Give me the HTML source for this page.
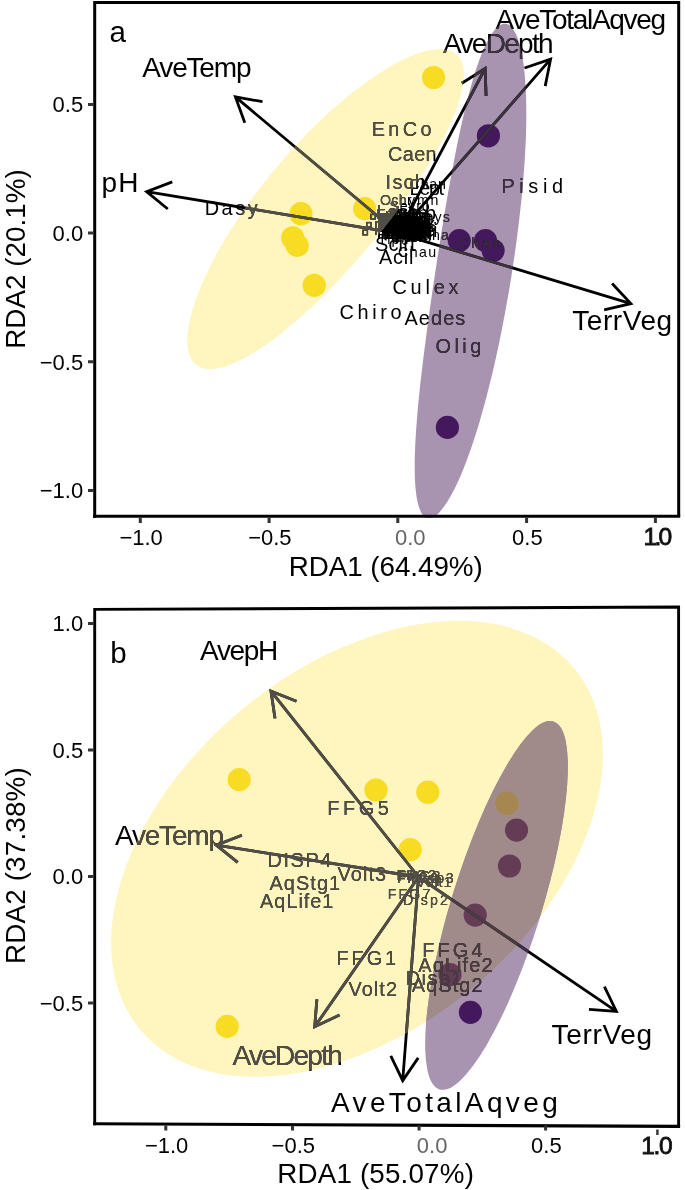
<!DOCTYPE html>
<html lang="en"><head><meta charset="utf-8"><title>RDA biplots</title>
<style>
html,body{margin:0;padding:0;background:#fff}
svg{display:block}
text{font-family:"Liberation Sans", sans-serif}
</style></head><body>
<svg width="685" height="1190" viewBox="0 0 685 1190">
<defs>
<clipPath id="panA"><rect x="94.7" y="2.6" width="584" height="515.4"/></clipPath>
<clipPath id="cYA"><path d="M456.1 54.0L452.5 51.6L448.3 50.0L443.5 49.2L438.0 49.0L432.0 49.7L425.4 51.1L418.3 53.3L410.8 56.2L402.8 59.8L394.5 64.1L385.7 69.2L376.7 74.9L367.5 81.3L358.0 88.2L348.4 95.8L338.7 104.0L328.9 112.6L319.1 121.7L309.3 131.3L299.7 141.3L290.2 151.6L280.8 162.2L271.7 173.0L262.9 184.0L254.4 195.2L246.3 206.4L238.6 217.7L231.3 228.9L224.5 240.0L218.2 251.0L212.4 261.8L207.1 272.4L202.5 282.6L198.4 292.5L194.9 301.9L192.1 310.9L189.9 319.4L188.4 327.3L187.5 334.7L187.2 341.4L187.6 347.4L188.7 352.8L190.4 357.4L192.7 361.3L195.7 364.4L199.2 366.7L203.4 368.3L208.1 369.0L213.3 369.0L219.1 368.1L225.4 366.5L232.1 364.0L239.3 360.8L246.9 356.8L254.8 352.1L263.1 346.7L271.7 340.7L280.5 334.0L289.6 326.6L298.8 318.7L308.2 310.3L317.7 301.4L327.2 292.0L336.7 282.2L346.2 272.1L355.6 261.7L364.8 251.1L373.9 240.3L382.8 229.3L391.4 218.2L399.7 207.2L407.7 196.1L415.2 185.1L422.4 174.2L429.1 163.5L435.2 153.0L440.9 142.8L446.0 133.0L450.5 123.5L454.3 114.4L457.6 105.7L460.2 97.6L462.1 89.9L463.3 82.9L463.8 76.4L463.7 70.6L462.8 65.4L461.3 60.9L459.0 57.1Z"/></clipPath>
<clipPath id="cPA"><path d="M504.8 23.8L502.8 24.1L500.8 24.8L498.7 26.1L496.6 27.9L494.5 30.2L492.4 33.0L490.2 36.3L488.1 40.0L485.9 44.3L483.7 49.0L481.6 54.2L479.4 59.8L477.2 65.9L475.1 72.4L473.0 79.3L470.9 86.6L468.8 94.2L466.7 102.3L464.6 110.7L462.6 119.4L460.6 128.5L458.6 137.8L456.6 147.4L454.7 157.3L452.7 167.4L450.8 177.7L448.9 188.3L447.0 198.9L445.2 209.8L443.4 220.7L441.5 231.8L439.8 243.0L438.0 254.2L436.3 265.4L434.6 276.7L432.9 287.9L431.3 299.1L429.7 310.3L428.2 321.4L426.7 332.3L425.3 343.2L423.9 353.8L422.6 364.4L421.4 374.7L420.2 384.8L419.2 394.7L418.2 404.3L417.4 413.6L416.7 422.7L416.0 431.4L415.5 439.8L415.1 447.9L414.8 455.5L414.7 462.8L414.7 469.7L414.8 476.2L415.1 482.3L415.5 487.9L416.1 493.1L416.7 497.8L417.6 502.1L418.5 505.8L419.7 509.1L420.9 511.9L422.3 514.2L423.8 516.0L425.4 517.3L427.1 518.0L429.0 518.3L431.0 518.0L433.0 517.3L435.2 516.0L437.4 514.2L439.7 511.9L442.1 509.1L444.6 505.8L447.1 502.1L449.7 497.8L452.3 493.1L455.0 487.9L457.7 482.3L460.4 476.2L463.1 469.7L465.8 462.8L468.5 455.5L471.2 447.9L473.9 439.8L476.6 431.4L479.3 422.7L481.9 413.6L484.5 404.3L487.0 394.7L489.5 384.8L492.0 374.7L494.4 364.4L496.8 353.8L499.1 343.2L501.3 332.3L503.4 321.4L505.5 310.3L507.5 299.1L509.5 287.9L511.3 276.7L513.0 265.4L514.7 254.2L516.3 243.0L517.7 231.8L519.1 220.7L520.3 209.8L521.5 198.9L522.5 188.3L523.4 177.7L524.2 167.4L524.9 157.3L525.4 147.4L525.9 137.8L526.1 128.5L526.3 119.4L526.3 110.7L526.2 102.3L526.0 94.2L525.6 86.6L525.1 79.3L524.5 72.4L523.8 65.9L522.9 59.8L521.9 54.2L520.8 49.0L519.6 44.3L518.3 40.0L516.9 36.3L515.4 33.0L513.8 30.2L512.2 27.9L510.4 26.1L508.6 24.8L506.7 24.1Z"/></clipPath>
<clipPath id="cYB"><ellipse cx="357.0" cy="848.8" rx="282.4" ry="180.7" transform="rotate(-39.8 357.0 848.8)"/></clipPath>
<clipPath id="cPB"><ellipse cx="496.5" cy="905.4" rx="192.6" ry="45.0" transform="rotate(-72.8 496.5 905.4)"/></clipPath>
<g id="inkA" fill="currentColor" stroke="none">
<g fill="none" stroke="currentColor" stroke-width="2.8" stroke-linejoin="miter" stroke-miterlimit="10">
<path d="M398.0 233.3L235.4 96.9M244.8 122.8L235.4 96.9L262.5 101.7"/>
<path d="M398.0 233.3L146.6 191.6M167.8 209.0L146.6 191.6L172.3 181.9"/>
<path d="M398.0 233.3L485.1 68.5M461.8 83.2L485.1 68.5L486.1 96.0"/>
<path d="M398.0 233.3L550.6 59.2M524.5 68.0L550.6 59.2L545.2 86.1"/>
<path d="M398.0 233.3L630.9 303.6M612.1 283.5L630.9 303.6L604.1 309.8"/>
</g>
<text x="142.3" y="76.5" font-size="28.0" letter-spacing="-1.17">AveTemp</text>
<text x="101.4" y="192.4" font-size="28.0" letter-spacing="1.33">pH</text>
<text x="443.1" y="52.6" font-size="28.0" letter-spacing="-1.71">AveDepth</text>
<text x="495.4" y="29.2" font-size="28.0" letter-spacing="-1.30">AveTotalAqveg</text>
<text x="572.2" y="329.9" font-size="28.0" letter-spacing="0.58">TerrVeg</text>
<text x="371.7" y="135.8" font-size="19.9" letter-spacing="3.40">EnCo</text>
<text x="388.0" y="160.9" font-size="19.9" letter-spacing="0.37">Caen</text>
<text x="385.6" y="188.9" font-size="19.9" letter-spacing="1.26">Isch</text>
<text x="204.7" y="215.2" font-size="19.9" letter-spacing="2.54">Dasy</text>
<text x="501.4" y="193.3" font-size="19.9" letter-spacing="4.64">Pisid</text>
<text x="392.4" y="294.0" font-size="19.9" letter-spacing="3.82">Culex</text>
<text x="339.4" y="319.1" font-size="19.9" letter-spacing="3.66">Chiro</text>
<text x="404.5" y="325.0" font-size="19.9" letter-spacing="1.09">Aedes</text>
<text x="435.5" y="353.1" font-size="19.9" letter-spacing="3.46">Olig</text>
<text x="379.0" y="264.3" font-size="19.9" letter-spacing="0.79">Acil</text>
<text x="409.5" y="195.0" font-size="19.9" letter-spacing="-1.36">Lept</text>
<text x="409.6" y="189.0" font-size="14.2" letter-spacing="0.79">Chan</text>
<text x="458.1" y="248.2" font-size="14.2" letter-spacing="2.86">Chao</text>
<text x="398.0" y="257.0" font-size="14.2" letter-spacing="1.42">Chau</text>
<text x="375.0" y="251.1" font-size="19.9" letter-spacing="0.19">Scirt</text>
<text x="380.0" y="204.5" font-size="14.2" letter-spacing="0.33">Ochr</text>
<text x="399.0" y="205.0" font-size="14.2" letter-spacing="1.74">Lymn</text>
<text x="389.5" y="210.5" font-size="14.2" letter-spacing="0.76">Sevro</text>
<text x="415.0" y="222.2" font-size="14.2" letter-spacing="1.08">Phys</text>
<text x="408.0" y="240.0" font-size="14.2" letter-spacing="1.15">Plana</text>
<text x="386.4" y="236.3" font-size="14.2" letter-spacing="0.43">Baet</text>
<text x="393.5" y="236.5" font-size="19.9" letter-spacing="-0.68">Lime</text>
<text x="393.5" y="235.8" font-size="19.9" letter-spacing="-0.46">Hydr</text>
<text x="380.4" y="234.0" font-size="19.9" letter-spacing="1.65">Cori</text>
<text x="376.5" y="238.6" font-size="19.9" letter-spacing="-0.32">Noto</text>
<text x="390.8" y="242.0" font-size="14.2" letter-spacing="2.08">Dyti</text>
<text x="381.7" y="230.0" font-size="14.2" letter-spacing="1.23">Gyri</text>
<text x="396.0" y="236.7" font-size="19.9" letter-spacing="2.38">Hali</text>
<text x="386.3" y="235.6" font-size="19.9" letter-spacing="1.15">Libe</text>
<text x="392.0" y="229.2" font-size="14.2" letter-spacing="-0.64">Aesh</text>
<text x="377.9" y="228.2" font-size="19.9" letter-spacing="-1.83">Coen</text>
<text x="386.4" y="233.9" font-size="19.9" letter-spacing="0.98">Lest</text>
<text x="379.5" y="226.8" font-size="19.9" letter-spacing="-1.09">Phys</text>
<text x="376.5" y="229.3" font-size="19.9" letter-spacing="0.75">Plan</text>
<text x="388.3" y="223.3" font-size="19.9" letter-spacing="-2.46">Spha</text>
<text x="378.9" y="229.4" font-size="14.2" letter-spacing="0.77">Hyal</text>
<text x="388.8" y="227.7" font-size="14.2" letter-spacing="-4.07">Gamm</text>
<text x="396.6" y="237.6" font-size="14.2" letter-spacing="0.70">Asel</text>
<text x="389.5" y="239.1" font-size="19.9" letter-spacing="1.86">Hiru</text>
<text x="382.2" y="223.4" font-size="14.2" letter-spacing="0.15">Glos</text>
<text x="394.3" y="229.0" font-size="14.2" letter-spacing="0.15">Erpo</text>
<text x="377.5" y="228.2" font-size="19.9" letter-spacing="0.82">Tubi</text>
<text x="395.1" y="219.8" font-size="19.9" letter-spacing="-2.90">Lumb</text>
<text x="387.1" y="231.0" font-size="14.2" letter-spacing="0.75">Naid</text>
<text x="376.2" y="219.0" font-size="14.2" letter-spacing="-0.30">Ench</text>
<text x="383.1" y="239.3" font-size="14.2">Hydra</text>
<text x="397.9" y="234.0" font-size="19.9" letter-spacing="-1.69">Dug</text>
<text x="392.1" y="234.5" font-size="14.2" letter-spacing="-0.44">Cera</text>
<text x="389.2" y="236.6" font-size="19.9" letter-spacing="-0.69">Tany</text>
<text x="387.0" y="231.1" font-size="19.9" letter-spacing="0.79">Orth</text>
<text x="377.5" y="228.9" font-size="14.2" letter-spacing="1.08">Chir</text>
<text x="389.3" y="229.0" font-size="19.9" letter-spacing="-1.42">Simu</text>
<text x="377.9" y="243.5" font-size="14.2" letter-spacing="1.12">Tipu</text>
<text x="387.8" y="236.3" font-size="19.9" letter-spacing="-1.36">Taba</text>
<text x="390.8" y="240.4" font-size="14.2" letter-spacing="1.14">Stra</text>
<text x="383.4" y="233.6" font-size="19.9" letter-spacing="-1.46">Ephy</text>
<text x="380.8" y="239.2" font-size="14.2" letter-spacing="-0.04">Psyc</text>
<text x="384.8" y="225.7" font-size="14.2" letter-spacing="0.68">Dixa</text>
<text x="388.4" y="231.1" font-size="14.2" letter-spacing="2.17">Tric</text>
<text x="392.2" y="220.0" font-size="14.2" letter-spacing="0.23">Limn</text>
<text x="376.5" y="237.1" font-size="19.9">Phry</text>
<text x="381.4" y="231.3" font-size="19.9" letter-spacing="1.27">Lepi</text>
<text x="384.9" y="236.7" font-size="19.9" letter-spacing="0.75">Poly</text>
<text x="383.7" y="233.0" font-size="19.9" letter-spacing="-0.50">Hept</text>
<text x="391.4" y="236.7" font-size="19.9" letter-spacing="0.42">Siph</text>
<text x="392.2" y="226.6" font-size="19.9" letter-spacing="0.60">Lept</text>
<text x="383.4" y="239.0" font-size="19.9" letter-spacing="-1.80">Ephe</text>
<text x="401.2" y="241.8" font-size="14.2" letter-spacing="-2.47">Nemo</text>
<text x="373.4" y="234.6" font-size="19.9" letter-spacing="2.02">Perl</text>
<text x="390.1" y="236.6" font-size="19.9" letter-spacing="-1.83">Capn</text>
<text x="387.0" y="229.6" font-size="19.9" letter-spacing="2.42">Sial</text>
<text x="394.0" y="230.6" font-size="19.9" letter-spacing="-1.37">Corix</text>
<text x="381.5" y="232.6" font-size="19.9" letter-spacing="-2.50">Nepa</text>
<text x="402.2" y="231.3" font-size="14.2" letter-spacing="0.30">Gerr</text>
<text x="383.9" y="239.2" font-size="19.9" letter-spacing="-1.02">Velia</text>
<text x="390.3" y="225.1" font-size="14.2" letter-spacing="-1.42">Meso</text>
<text x="382.0" y="237.1" font-size="14.2" letter-spacing="1.82">Pleid</text>
<text x="397.5" y="231.8" font-size="14.2" letter-spacing="0.24">Beros</text>
<text x="389.6" y="223.3" font-size="19.9" letter-spacing="-1.46">Enoc</text>
<text x="376.5" y="232.3" font-size="19.9" letter-spacing="0.05">Helo</text>
<text x="390.7" y="233.9" font-size="19.9" letter-spacing="-3.00">Hydro</text>
<text x="376.5" y="219.0" font-size="19.9" letter-spacing="-0.36">Lacc</text>
<g fill="none" stroke="currentColor" stroke-width="1.4"><rect x="363.0" y="230.2" width="4.4" height="4.6"/><rect x="371.0" y="214.4" width="4.2" height="4.6"/><rect x="366.8" y="222.6" width="4.2" height="4.4"/></g>
</g>
<g id="inkB" fill="currentColor" stroke="none">
<g fill="none" stroke="currentColor" stroke-width="2.8" stroke-linejoin="miter" stroke-miterlimit="10">
<path d="M418.5 877.0L271.0 691.2M275.0 718.4L271.0 691.2L296.5 701.3"/>
<path d="M418.5 877.0L216.3 845.1M237.7 862.4L216.3 845.1L241.9 835.3"/>
<path d="M418.5 877.0L314.7 1026.8M339.5 1015.1L314.7 1026.8L316.9 999.4"/>
<path d="M418.5 877.0L402.7 1080.6M418.2 1057.9L402.7 1080.6L390.8 1055.8"/>
<path d="M418.5 877.0L616.4 1011.4M604.4 986.6L616.4 1011.4L589.0 1009.4"/>
</g>
<text x="200.1" y="660.3" font-size="28.0" letter-spacing="-1.35">AvepH</text>
<text x="114.9" y="844.8" font-size="28.0" letter-spacing="-1.17">AveTemp</text>
<text x="232.6" y="1065.1" font-size="28.0" letter-spacing="-1.76">AveDepth</text>
<text x="331.0" y="1111.6" font-size="28.0" letter-spacing="3.37">AveTotalAqveg</text>
<text x="551.6" y="1044.2" font-size="28.0" letter-spacing="0.66">TerrVeg</text>
<text x="327.3" y="814.6" font-size="19.9" letter-spacing="3.58">FFG5</text>
<text x="267.5" y="866.6" font-size="19.9" letter-spacing="1.59">DISP4</text>
<text x="337.4" y="880.7" font-size="19.9" letter-spacing="1.13">Volt3</text>
<text x="269.5" y="890.1" font-size="19.9" letter-spacing="1.08">AqStg1</text>
<text x="260.1" y="908.3" font-size="19.9" letter-spacing="0.98">AqLife1</text>
<text x="336.4" y="964.7" font-size="19.9" letter-spacing="2.98">FFG1</text>
<text x="348.5" y="996.2" font-size="19.9" letter-spacing="1.06">Volt2</text>
<text x="422.3" y="957.2" font-size="19.9" letter-spacing="3.11">FFG4</text>
<text x="418.3" y="971.8" font-size="19.9" letter-spacing="1.12">AqLife2</text>
<text x="405.8" y="985.2" font-size="19.9" letter-spacing="1.40">Disp1</text>
<text x="411.8" y="991.7" font-size="19.9" letter-spacing="1.08">AqStg2</text>
<text x="387.8" y="899.2" font-size="14.2" letter-spacing="2.11">FFG7</text>
<text x="403.1" y="904.8" font-size="14.2" letter-spacing="2.10">Disp2</text>
<text x="396.5" y="880.0" font-size="14.2" letter-spacing="1.04">FFG2</text>
<text x="398.0" y="881.0" font-size="14.2" letter-spacing="2.08">FFG3</text>
<text x="397.0" y="883.0" font-size="14.2" letter-spacing="1.54">FFG6</text>
<text x="411.0" y="882.8" font-size="14.2" letter-spacing="1.58">Disp3</text>
<text x="416.0" y="886.5" font-size="14.2" letter-spacing="0.96">Volt1</text>
</g>
</defs>
<rect width="685" height="1190" fill="#fff"/>
<!-- panel a -->
<g clip-path="url(#panA)">
<path d="M456.1 54.0L452.5 51.6L448.3 50.0L443.5 49.2L438.0 49.0L432.0 49.7L425.4 51.1L418.3 53.3L410.8 56.2L402.8 59.8L394.5 64.1L385.7 69.2L376.7 74.9L367.5 81.3L358.0 88.2L348.4 95.8L338.7 104.0L328.9 112.6L319.1 121.7L309.3 131.3L299.7 141.3L290.2 151.6L280.8 162.2L271.7 173.0L262.9 184.0L254.4 195.2L246.3 206.4L238.6 217.7L231.3 228.9L224.5 240.0L218.2 251.0L212.4 261.8L207.1 272.4L202.5 282.6L198.4 292.5L194.9 301.9L192.1 310.9L189.9 319.4L188.4 327.3L187.5 334.7L187.2 341.4L187.6 347.4L188.7 352.8L190.4 357.4L192.7 361.3L195.7 364.4L199.2 366.7L203.4 368.3L208.1 369.0L213.3 369.0L219.1 368.1L225.4 366.5L232.1 364.0L239.3 360.8L246.9 356.8L254.8 352.1L263.1 346.7L271.7 340.7L280.5 334.0L289.6 326.6L298.8 318.7L308.2 310.3L317.7 301.4L327.2 292.0L336.7 282.2L346.2 272.1L355.6 261.7L364.8 251.1L373.9 240.3L382.8 229.3L391.4 218.2L399.7 207.2L407.7 196.1L415.2 185.1L422.4 174.2L429.1 163.5L435.2 153.0L440.9 142.8L446.0 133.0L450.5 123.5L454.3 114.4L457.6 105.7L460.2 97.6L462.1 89.9L463.3 82.9L463.8 76.4L463.7 70.6L462.8 65.4L461.3 60.9L459.0 57.1Z" fill="#FFF5BE"/>
<path d="M504.8 23.8L502.8 24.1L500.8 24.8L498.7 26.1L496.6 27.9L494.5 30.2L492.4 33.0L490.2 36.3L488.1 40.0L485.9 44.3L483.7 49.0L481.6 54.2L479.4 59.8L477.2 65.9L475.1 72.4L473.0 79.3L470.9 86.6L468.8 94.2L466.7 102.3L464.6 110.7L462.6 119.4L460.6 128.5L458.6 137.8L456.6 147.4L454.7 157.3L452.7 167.4L450.8 177.7L448.9 188.3L447.0 198.9L445.2 209.8L443.4 220.7L441.5 231.8L439.8 243.0L438.0 254.2L436.3 265.4L434.6 276.7L432.9 287.9L431.3 299.1L429.7 310.3L428.2 321.4L426.7 332.3L425.3 343.2L423.9 353.8L422.6 364.4L421.4 374.7L420.2 384.8L419.2 394.7L418.2 404.3L417.4 413.6L416.7 422.7L416.0 431.4L415.5 439.8L415.1 447.9L414.8 455.5L414.7 462.8L414.7 469.7L414.8 476.2L415.1 482.3L415.5 487.9L416.1 493.1L416.7 497.8L417.6 502.1L418.5 505.8L419.7 509.1L420.9 511.9L422.3 514.2L423.8 516.0L425.4 517.3L427.1 518.0L429.0 518.3L431.0 518.0L433.0 517.3L435.2 516.0L437.4 514.2L439.7 511.9L442.1 509.1L444.6 505.8L447.1 502.1L449.7 497.8L452.3 493.1L455.0 487.9L457.7 482.3L460.4 476.2L463.1 469.7L465.8 462.8L468.5 455.5L471.2 447.9L473.9 439.8L476.6 431.4L479.3 422.7L481.9 413.6L484.5 404.3L487.0 394.7L489.5 384.8L492.0 374.7L494.4 364.4L496.8 353.8L499.1 343.2L501.3 332.3L503.4 321.4L505.5 310.3L507.5 299.1L509.5 287.9L511.3 276.7L513.0 265.4L514.7 254.2L516.3 243.0L517.7 231.8L519.1 220.7L520.3 209.8L521.5 198.9L522.5 188.3L523.4 177.7L524.2 167.4L524.9 157.3L525.4 147.4L525.9 137.8L526.1 128.5L526.3 119.4L526.3 110.7L526.2 102.3L526.0 94.2L525.6 86.6L525.1 79.3L524.5 72.4L523.8 65.9L522.9 59.8L521.9 54.2L520.8 49.0L519.6 44.3L518.3 40.0L516.9 36.3L515.4 33.0L513.8 30.2L512.2 27.9L510.4 26.1L508.6 24.8L506.7 24.1Z" fill="#A893B0"/>
</g>
<circle cx="300.9" cy="213.7" r="11.6" fill="#F7DC23"/>
<circle cx="292.7" cy="237.8" r="11.6" fill="#F7DC23"/>
<circle cx="297.2" cy="245.4" r="11.6" fill="#F7DC23"/>
<circle cx="314.2" cy="285.3" r="11.6" fill="#F7DC23"/>
<circle cx="364.6" cy="208.6" r="11.6" fill="#F7DC23"/>
<circle cx="433.6" cy="77.5" r="11.6" fill="#F7DC23"/>
<circle cx="488.4" cy="135.8" r="11.6" fill="#44185C"/>
<circle cx="459.3" cy="240.6" r="11.6" fill="#44185C"/>
<circle cx="485.5" cy="240.6" r="11.6" fill="#44185C"/>
<circle cx="493.1" cy="250.5" r="11.6" fill="#44185C"/>
<circle cx="447.4" cy="427.4" r="11.6" fill="#44185C"/>
<use href="#inkA" color="#000"/>
<g clip-path="url(#cYA)"><use href="#inkA" color="#504E46"/></g>
<g clip-path="url(#cPA)"><use href="#inkA" color="#3C323E"/></g>
<path d="M94.7 518V2.6H678.7V516.2" fill="none" stroke="#000" stroke-width="3"/>
<path d="M93.2 516.2H680.2" fill="none" stroke="#000" stroke-width="3"/>
<!-- panel b -->
<ellipse cx="357.0" cy="848.8" rx="282.4" ry="180.7" transform="rotate(-39.8 357.0 848.8)" fill="#FFF5BE"/>
<ellipse cx="496.5" cy="905.4" rx="192.6" ry="45.0" transform="rotate(-72.8 496.5 905.4)" fill="#A893B0"/>
<g clip-path="url(#cYB)"><ellipse cx="496.5" cy="905.4" rx="192.6" ry="45.0" transform="rotate(-72.8 496.5 905.4)" fill="#A08A8A"/></g>
<circle cx="239.2" cy="779.6" r="11.6" fill="#F7DC23"/>
<circle cx="376.0" cy="790.0" r="11.6" fill="#F7DC23"/>
<circle cx="427.8" cy="792.2" r="11.6" fill="#F7DC23"/>
<circle cx="410.2" cy="849.7" r="11.6" fill="#F7DC23"/>
<circle cx="227.2" cy="1026.4" r="11.6" fill="#F7DC23"/>
<circle cx="506.9" cy="803.2" r="11.6" fill="#A5874F"/>
<circle cx="516.5" cy="830.1" r="11.6" fill="#643C55"/>
<circle cx="509.5" cy="866.0" r="11.6" fill="#643C55"/>
<circle cx="475.2" cy="915.1" r="11.6" fill="#643C55"/>
<circle cx="450.0" cy="974.5" r="11.6" fill="#643C55"/>
<circle cx="470.4" cy="1012.4" r="11.6" fill="#44185C"/>
<use href="#inkB" color="#000"/>
<g clip-path="url(#cYB)"><use href="#inkB" color="#504E46"/></g>
<g clip-path="url(#cPB)"><use href="#inkB" color="#3C323E"/></g>
<g clip-path="url(#cYB)"><g clip-path="url(#cPB)"><use href="#inkB" color="#4B3C41"/></g></g>
<path d="M94.7 1125.2V609.4L678.6 607V1126.4" fill="none" stroke="#000" stroke-width="2.9" stroke-linejoin="miter"/>
<path d="M93.2 1123.7L680.1 1126.4" fill="none" stroke="#000" stroke-width="3.1"/>
<path d="M140.3 517.5V523M269.1 517.5V523M397.8 517.5V523M526.6 517.5V523M655.4 517.5V523M88 104.4H93.5M88 233.1H93.5M88 361.8H93.5M88 490.5H93.5M165.8 1125.5V1130.6M292.5 1125.5V1130.6M419.1 1125.5V1130.6M545.6 1125.5V1130.6M88 623.6H93.5M88 750.0H93.5M88 876.6H93.5M88 1002.9H93.5" stroke="#333" stroke-width="3" fill="none"/><path d="M657.4 1129.5V1135" stroke="#333" stroke-width="2.4" fill="none"/>
<g font-size="22.0" fill="#000">
<text x="141.10000000000002" y="545.0" text-anchor="middle">−1.0</text>
<text x="269.90000000000003" y="545.0" text-anchor="middle">−0.5</text>
<text x="527.4" y="545.0" text-anchor="middle">0.5</text>
<text x="395.0" y="545.0" fill="#666">0.0</text>
<text x="83.2" y="112.1" text-anchor="end">0.5</text>
<text x="83.2" y="240.8" text-anchor="end">0.0</text>
<text x="83.2" y="369.5" text-anchor="end">−0.5</text>
<text x="83.2" y="498.2" text-anchor="end">−1.0</text>
<text x="166.60000000000002" y="1152.8" text-anchor="middle">−1.0</text>
<text x="293.3" y="1152.8" text-anchor="middle">−0.5</text>
<text x="546.4" y="1152.8" text-anchor="middle">0.5</text>
<text x="416.8" y="1152.8" fill="#666">0.0</text>
<text x="83.2" y="631.3" text-anchor="end">1.0</text>
<text x="83.2" y="757.7" text-anchor="end">0.5</text>
<text x="83.2" y="884.3" text-anchor="end">0.0</text>
<text x="83.2" y="1010.6" text-anchor="end">−0.5</text>
</g>
<g fill="#000">
<text x="643.4" y="545.4" font-size="24.6" letter-spacing="-2.66" stroke="#111" stroke-width="0.8" fill="#111">1.0</text>
<text x="641.2" y="1153.5" font-size="24.6" letter-spacing="-1.36" stroke="#111" stroke-width="0.8" fill="#111">1.0</text>
<text x="288.8" y="576.1" font-size="27.8" letter-spacing="-0.06">RDA1 (64.49%)</text>
<text x="277.2" y="1182.8" font-size="27.8" letter-spacing="0.17">RDA1 (55.07%)</text>
<text x="109.6" y="42.2" font-size="29.5">a</text>
<text x="110.2" y="663.2" font-size="29.5">b</text>
<text transform="translate(25.4 348.8) rotate(-90)" font-size="27.8" letter-spacing="0.04">RDA2 (20.1%)</text>
<text transform="translate(25.0 964.1) rotate(-90)" font-size="27.8" letter-spacing="0.18">RDA2 (37.38%)</text>
</g>
</svg>
</body></html>
